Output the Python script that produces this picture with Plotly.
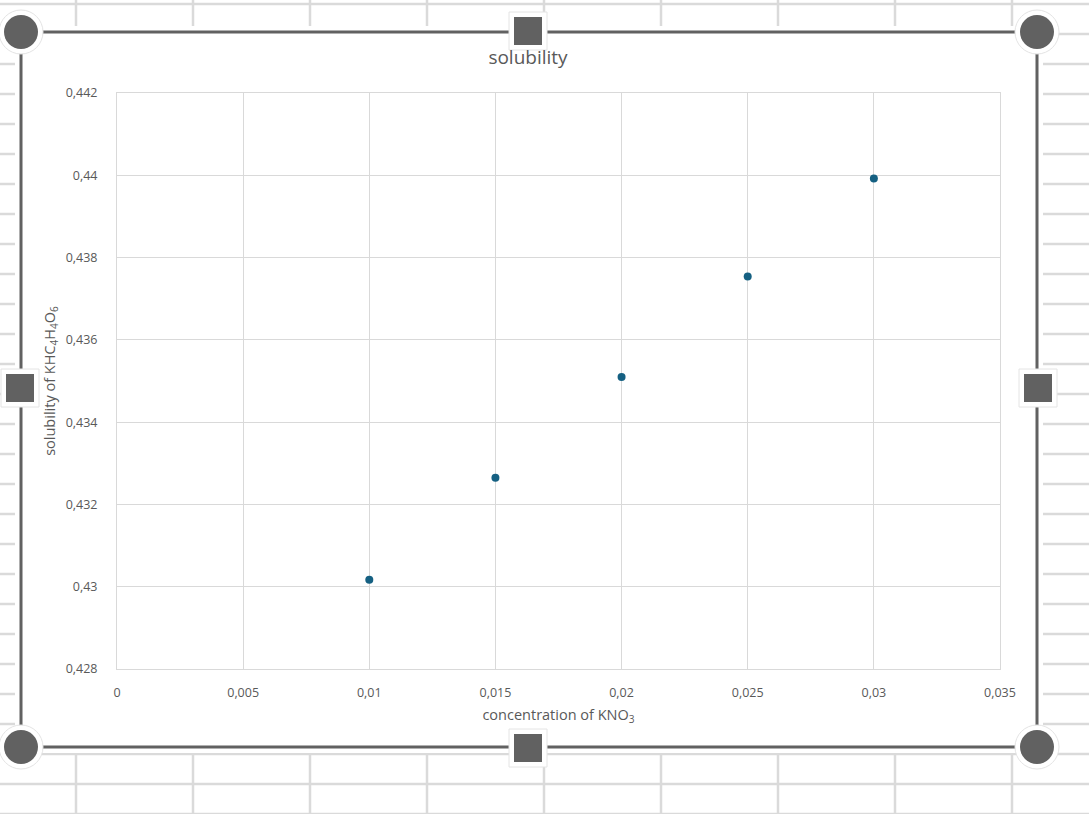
import plotly.graph_objects as go

# data
concentration = [0.01, 0.015, 0.02, 0.025, 0.03]
solubility = [0.43017, 0.43265, 0.43510, 0.43754, 0.43992]

x_range = [0, 0.035]
y_range = [0.428, 0.442]

W, H = 1089, 814
L, R, T, B = 117, 89, 93, 145
PW, PH = W - L - R, H - T - B

GRID = "#d9d9d9"
TEXT = "#595959"
FRAME = "#616161"


def px_x(x):
    return (x - L) / PW


def px_y(y):
    return (H - B - y) / PH


def rect(x0, y0, x1, y1, **kw):
    return dict(type="rect", xref="paper", yref="paper",
                x0=px_x(x0), x1=px_x(x1), y0=px_y(y1), y1=px_y(y0), **kw)


def hline(y, x0, x1, **kw):
    return dict(type="line", xref="paper", yref="paper",
                x0=px_x(x0), x1=px_x(x1), y0=px_y(y), y1=px_y(y), **kw)


def vline(x, y0, y1, **kw):
    return dict(type="line", xref="paper", yref="paper",
                x0=px_x(x), x1=px_x(x), y0=px_y(y0), y1=px_y(y1), **kw)


shapes = []
# spreadsheet cells behind the chart
for k in range(28):
    shapes.append(hline(4 + 30 * k, 0, W, line=dict(color="#dadada", width=2.5), layer="below"))
for k in range(10):
    shapes.append(vline(76 + 117 * k, 0, H, line=dict(color="#dadada", width=2.5), layer="below"))
# chart area with selection frame
shapes.append(rect(15, 26, 1043, 753, fillcolor="white", line=dict(width=0), layer="below"))
shapes.append(rect(21, 32, 1037, 747, fillcolor="white", line=dict(color=FRAME, width=3), layer="below"))

# selection handles
for cx, cy in [(21, 32), (1037, 32), (21, 747), (1037, 747)]:
    shapes.append(dict(type="circle", xref="paper", yref="paper",
                       x0=px_x(cx - 22), x1=px_x(cx + 22), y0=px_y(cy + 22), y1=px_y(cy - 22),
                       fillcolor="white", line=dict(color="#e4e4e4", width=1), layer="above"))
    shapes.append(dict(type="circle", xref="paper", yref="paper",
                       x0=px_x(cx - 17), x1=px_x(cx + 17), y0=px_y(cy + 17), y1=px_y(cy - 17),
                       fillcolor=FRAME, line=dict(width=0), layer="above"))
for cx, cy in [(528, 31), (20, 388), (1038, 388), (528, 748)]:
    shapes.append(rect(cx - 19, cy - 19, cx + 19, cy + 19, fillcolor="white",
                       line=dict(color="#e4e4e4", width=1), layer="above"))
    shapes.append(rect(cx - 14, cy - 14, cx + 14, cy + 14, fillcolor=FRAME,
                       line=dict(width=0), layer="above"))

fig = go.Figure(
    go.Scatter(
        x=concentration,
        y=solubility,
        mode="markers",
        marker=dict(color="#156082", size=8),
        showlegend=False,
    )
)

axis_common = dict(
    showgrid=True,
    gridcolor=GRID,
    gridwidth=1,
    zeroline=False,
    showline=True,
    linecolor=GRID,
    linewidth=1,
    mirror=True,
    ticks="",
    tickfont=dict(family="Open Sans", size=12.5, color=TEXT),
)

fig.update_xaxes(
    range=x_range,
    dtick=0.005,
    tick0=0,
    ticklabelstandoff=12,
    title=dict(text="concentration of KNO<sub>3</sub>",
               font=dict(family="Open Sans", size=14.5, color=TEXT), standoff=9),
    **axis_common,
)
fig.update_yaxes(
    range=y_range,
    dtick=0.002,
    tick0=0.428,
    ticklabelstandoff=16,
    title=dict(text="solubility of KHC<sub>4</sub>H<sub>4</sub>O<sub>6</sub>",
               font=dict(family="Open Sans", size=14.5, color=TEXT), standoff=6),
    **axis_common,
)

fig.update_layout(
    width=W,
    height=H,
    margin=dict(l=L, r=R, t=T, b=B, autoexpand=False),
    paper_bgcolor="white",
    plot_bgcolor="rgba(0,0,0,0)",
    separators=", ",
    title=dict(text="solubility", x=px_x(528), xanchor="center", xref="paper",
               y=1 - 57 / H, yanchor="middle",
               font=dict(family="Open Sans", size=19, color=TEXT)),
    shapes=shapes,
)

# page margin off so the figure sits at the window corner
fig.write_html(
    "out.html",
    config={"displayModeBar": False},
    post_script="document.body.style.margin='0';",
)
